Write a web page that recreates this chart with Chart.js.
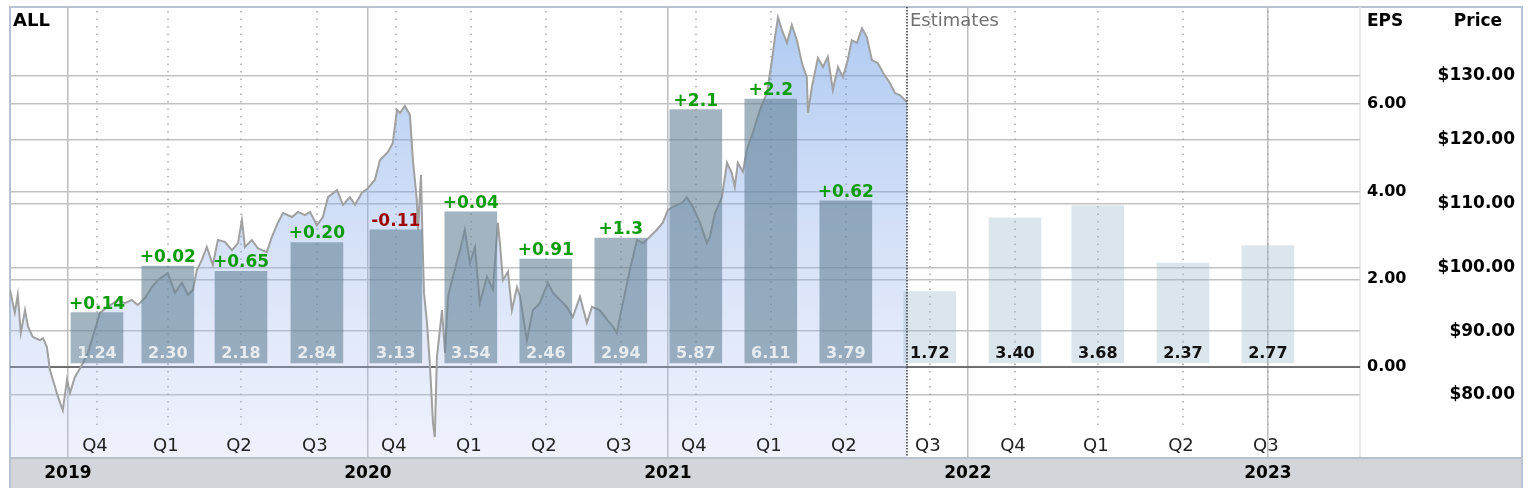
<!DOCTYPE html>
<html>
<head>
<meta charset="utf-8">
<script src="https://cdn.jsdelivr.net/npm/chart.js@4/dist/chart.umd.min.js"></script>
<style>
  html, body { margin: 0; padding: 0; background: #fff; }
  #wrap { width: 1533px; height: 488px; position: relative; }
</style>
</head>
<body>
<div id="wrap"><canvas id="chart"></canvas></div>
<script>
// ---- data (x values are decimal years) ----
const symbol = 'ALL';

const histDates    = [2019.097, 2019.333, 2019.577, 2019.830, 2020.093, 2020.343, 2020.593, 2020.843, 2021.093, 2021.343, 2021.593];
const histQuarters = ['Q4', 'Q1', 'Q2', 'Q3', 'Q4', 'Q1', 'Q2', 'Q3', 'Q4', 'Q1', 'Q2'];
const histEps      = [1.24, 2.30, 2.18, 2.84, 3.13, 3.54, 2.46, 2.94, 5.87, 6.11, 3.79];
const surprises    = ['+0.14', '+0.02', '+0.65', '+0.20', '-0.11', '+0.04', '+0.91', '+1.3', '+2.1', '+2.2', '+0.62'];

const estDates    = [2021.873, 2022.157, 2022.433, 2022.717, 2023.000];
const estQuarters = ['Q3', 'Q4', 'Q1', 'Q2', 'Q3'];
const estEps      = [1.72, 3.40, 3.68, 2.37, 2.77];

const years      = [2019, 2020, 2021, 2022, 2023];
const epsTicks   = [0, 2, 4, 6];
const priceTicks = [80, 90, 100, 110, 120, 130];

const priceDates = [
  2018.807, 2018.823, 2018.833, 2018.843, 2018.857, 2018.867, 2018.883, 2018.907, 2018.917, 2018.930,
  2018.940, 2018.957, 2018.967, 2018.983, 2018.997, 2019.007, 2019.023, 2019.047, 2019.067, 2019.090,
  2019.107, 2019.133, 2019.167, 2019.190, 2019.213, 2019.233, 2019.257, 2019.280, 2019.300, 2019.333,
  2019.357, 2019.380, 2019.400, 2019.417, 2019.430, 2019.447, 2019.463, 2019.483, 2019.500, 2019.523,
  2019.547, 2019.567, 2019.580, 2019.590, 2019.613, 2019.633, 2019.663, 2019.680, 2019.700, 2019.717,
  2019.747, 2019.767, 2019.790, 2019.807, 2019.830, 2019.850, 2019.867, 2019.897, 2019.917, 2019.940,
  2019.957, 2019.980, 2020.000, 2020.023, 2020.040, 2020.067, 2020.083, 2020.097, 2020.107, 2020.123,
  2020.140, 2020.150, 2020.163, 2020.167, 2020.177, 2020.183, 2020.187, 2020.197, 2020.207, 2020.217,
  2020.223, 2020.230, 2020.240, 2020.247, 2020.257, 2020.267, 2020.283, 2020.307, 2020.323, 2020.340,
  2020.357, 2020.373, 2020.397, 2020.417, 2020.433, 2020.440, 2020.450, 2020.467, 2020.480, 2020.497,
  2020.507, 2020.530, 2020.550, 2020.573, 2020.600, 2020.617, 2020.640, 2020.663, 2020.683, 2020.707,
  2020.730, 2020.747, 2020.773, 2020.797, 2020.817, 2020.830, 2020.840, 2020.857, 2020.873, 2020.897,
  2020.917, 2020.940, 2020.963, 2020.983, 2021.000, 2021.017, 2021.047, 2021.063, 2021.083, 2021.107,
  2021.130, 2021.140, 2021.157, 2021.180, 2021.197, 2021.213, 2021.223, 2021.233, 2021.250, 2021.263,
  2021.283, 2021.307, 2021.330, 2021.347, 2021.357, 2021.367, 2021.380, 2021.397, 2021.413, 2021.430,
  2021.447, 2021.463, 2021.467, 2021.480, 2021.500, 2021.517, 2021.533, 2021.550, 2021.567, 2021.583,
  2021.597, 2021.613, 2021.630, 2021.647, 2021.663, 2021.680, 2021.700, 2021.717, 2021.740, 2021.757,
  2021.773, 2021.797
];
const prices = [
  96.5, 92.9, 95.7, 89.7, 93.3, 90.7, 89.1, 88.6, 88.9, 87.5,
  83.9, 81.3, 79.7, 77.6, 82.4, 80.3, 82.8, 84.7, 86.6, 90.2,
  92.9, 93.8, 94.9, 94.4, 94.9, 94.1, 95.2, 96.9, 98.0, 99.1,
  96.0, 97.6, 95.7, 96.5, 99.6, 101.2, 103.2, 100.4, 104.3, 104.0,
  102.7, 103.8, 107.4, 103.2, 104.3, 103.0, 102.4, 104.8, 107.0, 108.5,
  107.9, 108.7, 108.2, 108.7, 106.6, 107.9, 111.0, 112.1, 109.8, 111.0,
  109.8, 111.7, 112.4, 113.7, 116.8, 118.1, 119.5, 124.7, 124.2, 125.3,
  123.9, 116.8, 110.6, 105.9, 114.5, 102.7, 96.0, 91.3, 84.4, 75.6,
  73.4, 86.0, 90.2, 93.3, 86.6, 95.4, 98.5, 102.7, 105.9, 100.7,
  103.2, 94.4, 98.5, 96.5, 107.0, 103.8, 98.0, 99.3, 93.3, 96.9,
  95.4, 88.6, 93.3, 94.4, 97.6, 96.0, 94.9, 93.8, 92.2, 95.4,
  91.3, 93.8, 93.3, 91.8, 90.7, 89.7, 92.2, 96.0, 99.6, 104.3,
  103.8, 104.8, 105.9, 107.0, 109.0, 109.5, 110.1, 111.0, 109.5, 107.0,
  103.8, 104.8, 108.5, 111.0, 116.4, 114.8, 112.6, 116.4, 115.0, 118.4,
  121.1, 124.7, 127.3, 132.5, 136.1, 139.2, 137.2, 135.2, 138.0, 135.6,
  132.0, 129.8, 124.2, 128.3, 132.8, 131.4, 133.0, 127.8, 131.4, 129.8,
  132.0, 135.6, 135.2, 137.5, 136.1, 132.5, 132.0, 130.5, 128.9, 127.3,
  127.0, 125.9
];

// ---- drawing ----
const FONT = "'DejaVu Sans', Verdana, sans-serif";

const decor = {
  id: 'decor',
  beforeDraw(chart) {
    const { ctx, chartArea: a, width, height } = chart;
    const right = width - 11;
    ctx.save();
    ctx.fillStyle = '#fff';
    ctx.fillRect(0, 0, width, height);
    // year band
    ctx.fillStyle = '#d2d5da';
    ctx.fillRect(a.left, a.bottom, right - a.left, height - a.bottom);
    ctx.strokeStyle = '#aeb8c6';
    ctx.lineWidth = 1.5;
    ctx.beginPath();
    ctx.moveTo(a.left, a.bottom + 1); ctx.lineTo(right, a.bottom + 1);
    ctx.stroke();
    // frame
    ctx.strokeStyle = '#b7c2d1';
    ctx.lineWidth = 2;
    ctx.beginPath();
    ctx.moveTo(a.left, height); ctx.lineTo(a.left, a.top); ctx.lineTo(right, a.top); ctx.lineTo(right, height);
    ctx.stroke();
    ctx.strokeStyle = '#e0e0e0';
    ctx.lineWidth = 1.5;
    ctx.beginPath();
    ctx.moveTo(a.right, a.top); ctx.lineTo(a.right, a.bottom);
    ctx.stroke();
    ctx.restore();
  },
  beforeDatasetsDraw(chart) {
    const { ctx, chartArea: a, scales } = chart;
    ctx.save();
    ctx.strokeStyle = '#a8a8a8';
    ctx.lineWidth = 1.5;
    ctx.setLineDash([1.5, 6]);
    histDates.concat(estDates).forEach(d => {
      const x = Math.round(scales.x.getPixelForValue(d));
      ctx.beginPath();
      ctx.moveTo(x, a.top + 4);
      ctx.lineTo(x, a.bottom - 28);
      ctx.stroke();
    });
    ctx.restore();
  },
  afterDatasetsDraw(chart) {
    const { ctx, chartArea: a, scales } = chart;
    const xs = scales.x;
    ctx.save();

    // estimates divider
    const ex = Math.round(xs.getPixelForValue(priceDates[priceDates.length - 1]));
    ctx.strokeStyle = '#333';
    ctx.lineWidth = 1.5;
    ctx.setLineDash([1.5, 1.5]);
    ctx.beginPath();
    ctx.moveTo(ex, a.top);
    ctx.lineTo(ex, a.bottom);
    ctx.stroke();
    ctx.setLineDash([]);

    ctx.textBaseline = 'alphabetic';
    ctx.textAlign = 'left';
    ctx.fillStyle = '#707070';
    ctx.font = '18px ' + FONT;
    ctx.fillText('Estimates', ex + 3, a.top + 19);

    // bar labels
    ctx.textAlign = 'center';
    const histMeta = chart.getDatasetMeta(1);
    histMeta.data.forEach((el, i) => {
      ctx.font = 'bold 16px ' + FONT;
      ctx.fillStyle = '#e6ebef';
      ctx.fillText(histEps[i].toFixed(2), el.x, el.base - 5);
      ctx.font = 'bold 17px ' + FONT;
      ctx.fillStyle = surprises[i].startsWith('-') ? '#9e0000' : '#0c9c0c';
      ctx.fillText(surprises[i], el.x, el.y - 4);
    });
    const estMeta = chart.getDatasetMeta(2);
    estMeta.data.forEach((el, i) => {
      ctx.font = 'bold 16px ' + FONT;
      ctx.fillStyle = '#111';
      ctx.fillText(estEps[i].toFixed(2), el.x, el.base - 5);
    });

    // quarter labels
    ctx.font = '18px ' + FONT;
    ctx.fillStyle = '#222';
    histDates.forEach((d, i) => ctx.fillText(histQuarters[i], xs.getPixelForValue(d) - 2, a.bottom - 6));
    estDates.forEach((d, i) => ctx.fillText(estQuarters[i], xs.getPixelForValue(d) - 2, a.bottom - 6));

    // titles
    ctx.fillStyle = '#000';
    ctx.font = 'bold 18px ' + FONT;
    ctx.textAlign = 'left';
    ctx.fillText(symbol, a.left + 3, a.top + 19);
    ctx.font = 'bold 17px ' + FONT;
    ctx.fillText('EPS', scales.eps.left + 7, a.top + 19);
    ctx.textAlign = 'center';
    ctx.fillText('Price', scales.price.right - 37, a.top + 19);
    ctx.restore();
  }
};

const fillGradient = (c) => {
  const { ctx, chartArea } = c.chart;
  if (!chartArea) return 'rgba(120,160,230,0.35)';
  const g = ctx.createLinearGradient(0, chartArea.top, 0, chartArea.bottom);
  g.addColorStop(0, 'rgba(80,140,225,0.47)');
  g.addColorStop(1, 'rgba(190,200,245,0.25)');
  return g;
};

// drop the half-label padding chart.js reserves above/below vertical axes
const noPad = (s, w) => { s.width = w; s.paddingTop = 0; s.paddingBottom = 0; };

new Chart(document.getElementById('chart'), {
  type: 'bar',
  data: {
    datasets: [
      {
        type: 'line',
        label: 'Price',
        data: priceDates.map((d, i) => ({ x: d, y: prices[i] })),
        xAxisID: 'x',
        yAxisID: 'price',
        borderColor: '#a0a0a0',
        borderWidth: 2,
        pointRadius: 0,
        fill: 'start',
        backgroundColor: fillGradient,
        tension: 0,
        order: 2,
      },
      {
        label: 'EPS',
        data: histDates.map((d, i) => ({ x: d, y: histEps[i] })),
        xAxisID: 'x',
        yAxisID: 'eps',
        backgroundColor: 'rgba(100,130,150,0.6)',
        borderWidth: 0,
        barThickness: 52,
        grouped: false,
        base: 0.09,
        order: 1,
      },
      {
        label: 'Estimates',
        data: estDates.map((d, i) => ({ x: d, y: estEps[i] })),
        xAxisID: 'x',
        yAxisID: 'eps',
        backgroundColor: 'rgba(150,180,200,0.35)',
        borderWidth: 0,
        barThickness: 52,
        grouped: false,
        base: 0.09,
        order: 1,
      },
    ],
  },
  options: {
    responsive: true,
    maintainAspectRatio: false,
    animation: false,
    layout: { padding: { left: 10, top: 7, right: 18, bottom: 0 } },
    plugins: {
      legend: { display: false },
      tooltip: { enabled: false },
    },
    scales: {
      x: {
        type: 'linear',
        position: 'bottom',
        min: 2018.807,
        max: 2023.307,
        offset: false,
        afterBuildTicks: (s) => { s.ticks = years.map(v => ({ value: v })); },
        afterFit: (s) => { s.height = 31; s.paddingLeft = 0; s.paddingRight = 0; },
        grid: { color: '#bdbdbd', lineWidth: 1.5, drawTicks: false, offset: false },
        border: { display: false },
        ticks: {
          padding: 6,
          color: '#000',
          autoSkip: false,
          maxRotation: 0,
          font: { family: FONT, size: 17, weight: 'bold' },
          callback: (v) => String(v),
        },
      },
      eps: {
        type: 'linear',
        position: 'right',
        weight: 0,
        min: -2.053,
        max: 8.21,
        afterBuildTicks: (s) => { s.ticks = epsTicks.map(v => ({ value: v })); },
        afterFit: (s) => noPad(s, 65),
        grid: {
          color: (c) => (c.tick && c.tick.value === 0 ? '#6e6e6e' : '#c1c1c1'),
          lineWidth: (c) => (c.tick && c.tick.value === 0 ? 2 : 1.5),
          drawTicks: false,
        },
        border: { display: false },
        ticks: {
          padding: 7,
          color: '#000',
          font: { family: FONT, size: 16, weight: 'bold' },
          callback: (v) => v.toFixed(2),
        },
      },
      price: {
        type: 'linear',
        position: 'right',
        weight: 1,
        min: 70.28,
        max: 140.81,
        afterBuildTicks: (s) => { s.ticks = priceTicks.map(v => ({ value: v })); },
        afterFit: (s) => noPad(s, 90),
        grid: { color: '#c1c1c1', lineWidth: 1.5, drawTicks: false },
        border: { display: false },
        ticks: {
          padding: 13,
          crossAlign: 'far',
          color: '#000',
          font: { family: FONT, size: 17, weight: 'bold' },
          callback: (v) => '$' + v.toFixed(2),
        },
      },
    },
  },
  plugins: [decor],
});
</script>
</body>
</html>
